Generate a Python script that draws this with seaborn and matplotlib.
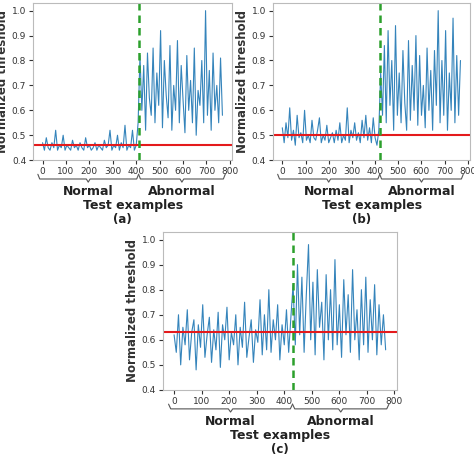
import numpy as np
import pandas as pd
import matplotlib
matplotlib.use("Agg")
import matplotlib.pyplot as plt
import matplotlib.transforms as mtrans
import seaborn as sns

sns.set_style("white")
plt.rcParams['font.family'] = ['DejaVu Sans']

a_values = [0.47,0.44,0.49,0.45,0.44,0.47,0.45,0.52,0.44,0.46,0.45,0.50,0.44,0.46,0.45,0.44,0.48,0.45,0.46,0.44,0.47,0.45,0.44,0.49,0.45,0.46,0.44,0.45,0.47,0.44,0.46,0.45,0.44,0.48,0.45,0.46,0.52,0.44,0.46,0.45,0.50,0.44,0.47,0.45,0.54,0.44,0.46,0.45,0.52,0.44,0.46,
            0.55,0.82,0.60,0.78,0.52,0.83,0.65,0.58,0.85,0.55,0.75,0.62,0.92,0.53,0.80,0.66,0.57,0.86,0.52,0.70,0.60,0.88,0.55,0.78,0.64,0.51,0.82,0.60,0.72,0.55,0.85,0.50,0.68,0.62,0.80,0.55,1.00,0.58,0.76,0.52,0.83,0.60,0.70,0.55,0.81,0.58]
b_values = [0.53,0.47,0.55,0.49,0.61,0.48,0.52,0.46,0.58,0.49,0.51,0.47,0.60,0.48,0.50,0.47,0.56,0.49,0.48,0.52,0.57,0.47,0.50,0.48,0.54,0.47,0.49,0.51,0.47,0.52,0.48,0.55,0.47,0.50,0.48,0.61,0.47,0.52,0.49,0.55,0.48,0.51,0.47,0.56,0.49,0.58,0.48,0.53,0.47,0.57,0.49,0.46,0.52,
            0.75,0.58,0.86,0.55,0.92,0.62,0.80,0.52,0.94,0.58,0.75,0.55,0.84,0.63,0.52,0.88,0.56,0.78,0.60,0.90,0.54,0.82,0.58,0.70,0.53,0.85,0.60,0.76,0.52,0.84,0.62,1.00,0.55,0.80,0.58,0.92,0.52,0.75,0.60,0.97,0.55,0.82,0.58,0.80]
c_values = [0.62,0.55,0.70,0.50,0.65,0.58,0.72,0.52,0.63,0.68,0.48,0.66,0.57,0.74,0.53,0.62,0.69,0.51,0.64,0.56,0.71,0.49,0.66,0.60,0.73,0.52,0.63,0.58,0.70,0.50,0.65,0.57,0.75,0.53,0.61,0.68,0.51,0.64,0.59,0.76,0.54,0.70,0.56,0.80,0.55,0.68,0.60,0.74,0.52,0.66,0.58,0.72,0.55,0.69,
            0.82,0.58,0.90,0.62,0.85,0.55,0.78,0.98,0.60,0.83,0.54,0.88,0.65,0.75,0.52,0.86,0.60,0.80,0.56,0.92,0.58,0.74,0.53,0.84,0.62,0.78,0.55,0.88,0.60,0.72,0.52,0.80,0.58,0.85,0.55,0.76,0.60,0.82,0.54,0.74,0.58,0.70,0.56]
step = 8
thresholds = [0.46, 0.50, 0.63]
splits = [410, 420, 430]
labels = ["(a)", "(b)", "(c)"]
xticks = [0, 100, 200, 300, 400, 500, 600, 700, 800]
yticks = [0.4, 0.5, 0.6, 0.7, 0.8, 0.9, 1.0]

fig = plt.figure(figsize=(4.74, 4.55), dpi=100)
rects = [[0.07, 0.648, 0.42, 0.345], [0.576, 0.648, 0.416, 0.345], [0.344, 0.143, 0.494, 0.347]]

def brace(ax, x0, x1, y=-0.09, h=0.05):
    tr = mtrans.blended_transform_factory(ax.transData, ax.transAxes)
    xm = (x0 + x1) / 2
    kw = dict(color="#555555", lw=0.8, transform=tr, clip_on=False)
    ax.plot([x0, x0 + 8, xm - 8, xm, xm + 8, x1 - 8, x1],
            [y, y - h * 0.6, y - h * 0.6, y - h, y - h * 0.6, y - h * 0.6, y], **kw)

for vals, thr, sp, lab, r in zip([a_values, b_values, c_values], thresholds, splits, labels, rects):
    ax = fig.add_axes(r)
    df = pd.DataFrame({"x": np.arange(len(vals)) * step, "y": vals})
    sns.lineplot(data=df, x="x", y="y", ax=ax, color="#1f77b4", lw=0.8, alpha=0.9)
    ax.axhline(thr, color="#e41a1c", lw=1.5)
    ax.axvline(sp, color="#2ca02c", lw=1.8, ls=(0, (3, 2)))
    ax.set_xlim(-40, 810)
    ax.set_ylim(0.4, 1.03)
    ax.set_xticks(xticks)
    ax.set_yticks(yticks)
    ax.tick_params(labelsize=6.5, colors="#333333", length=3, direction="out", bottom=True, left=True, pad=2)
    ax.set_yticklabels([f"{t:.1f}" for t in yticks])
    for s in ax.spines.values():
        s.set_color("#bbbbbb")
    ax.set_xlabel("")
    ax.set_ylabel("Normalized threshold", fontsize=8.5, fontweight="bold", color="#333333", labelpad=2)
    brace(ax, -20, sp)
    brace(ax, sp, 780)
    tr = mtrans.blended_transform_factory(ax.transData, ax.transAxes)
    ax.text(sp / 2 - 10, -0.2, "Normal", transform=tr, ha="center", va="center", fontsize=9, fontweight="bold", color="#222222")
    ax.text((sp + 780) / 2, -0.2, "Abnormal", transform=tr, ha="center", va="center", fontsize=9, fontweight="bold", color="#222222")
    ax.text(0.5, -0.29, "Test examples", transform=ax.transAxes, ha="center", va="center", fontsize=9, fontweight="bold", color="#222222")
    ax.text(0.5 if lab == "(c)" else 0.45, -0.38, lab, transform=ax.transAxes, ha="center", va="center", fontsize=8.5, fontweight="bold", color="#222222")

fig.savefig("out.png", dpi=100)
